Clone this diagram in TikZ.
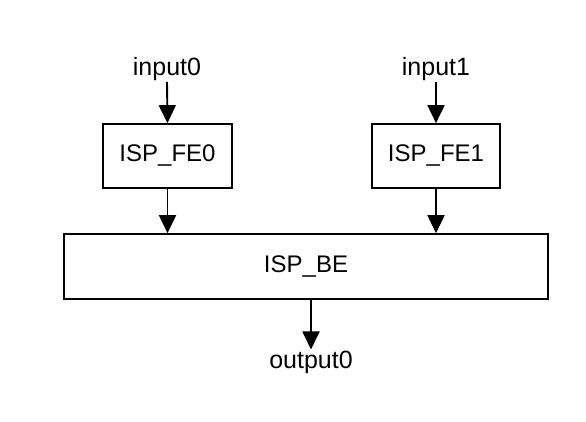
\documentclass[tikz,border=0pt]{standalone}
\usepackage{fontspec}
\setmainfont{Liberation Sans}
\usetikzlibrary{arrows.meta}
\begin{document}
\begin{tikzpicture}[x=1pt,y=-1pt,
  blk/.style={draw=black,line width=1.7pt,fill=white,inner sep=0pt,font=\fontsize{24}{28}\selectfont},
  lbl/.style={inner sep=1pt,font=\fontsize{25}{29}\selectfont},
  arr/.style={line width=1.9pt,-{Triangle[length=18pt,width=17pt]}}]
\useasboundingbox[fill=white] (0,0) rectangle (586,421);
\node[lbl] (in0) at (167,69) {input0};
\node[lbl] (in1) at (436,69) {input1};
\node[blk,minimum width=129pt,minimum height=64pt] (fe0) at (167.5,156) {ISP\_FE0};
\node[blk,minimum width=128pt,minimum height=64pt] (fe1) at (436,156) {ISP\_FE1};
\node[blk,minimum width=484pt,minimum height=65pt] (be) at (306,266.5) {ISP\_BE};
\node[lbl] (out0) at (311,362) {output0};
\draw[arr] (in0.south) -- (fe0.north);
\draw[arr] (in1.south) -- (fe1.north);
\draw[arr] (fe0.south) -- (fe0.south |- be.north);
\draw[arr] (fe1.south) -- (fe1.south |- be.north);
\draw[arr] (be.south -| out0.north) -- (out0.north);
\end{tikzpicture}
\end{document}
